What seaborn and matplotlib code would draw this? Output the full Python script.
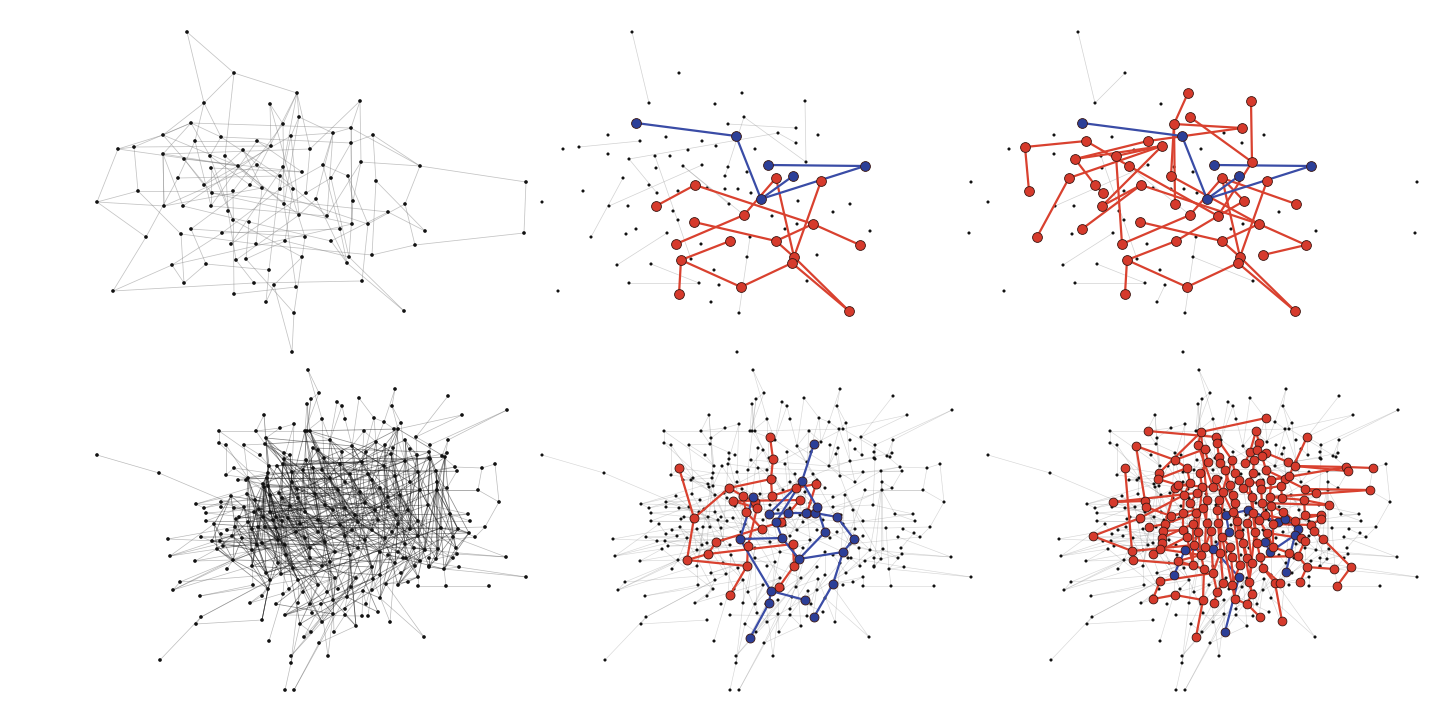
import numpy as np
import matplotlib
matplotlib.use("Agg")
import matplotlib.pyplot as plt
import seaborn as sns
from matplotlib.collections import LineCollection

# ---------------- upper network: node positions (pixels)
TOP_NUM = [n for n in range(1, 101) if n != 54]  # node numbers as counted (54 was a dot of the next panel)
TOP_X = [187, 234, 297, 204, 270, 360, 299, 191, 283, 351,
         163, 221, 291, 333, 373, 118, 134, 195, 257, 271,
         351, 243, 310, 163, 210, 225, 184, 361, 238, 257,
         283, 323, 420, 211, 302, 178, 280, 331, 348, 376,
         526, 204, 250, 262, 280, 293, 138, 233, 306, 212,
         316, 353, 97, 284, 405, 164, 183, 211, 228,
         388, 327, 299, 233, 249, 352, 368, 340, 191, 425,
         181, 222, 524, 146, 305, 285, 331, 256, 231, 415,
         349, 372, 302, 236, 246, 347, 206, 172, 269, 362,
         184, 254, 274, 296, 113, 234, 266, 294, 404, 292]
TOP_Y = [32, 73, 93, 103, 104, 101, 117, 123, 124, 128,
         135, 137, 136, 133, 135, 149, 147, 141, 141, 146,
         143, 150, 149, 154, 156, 156, 159, 162, 166, 165,
         167, 165, 166, 168, 172, 178, 176, 178, 176, 181,
         182, 185, 185, 188, 189, 189, 191, 191, 193, 193,
         199, 201, 202, 204, 204, 206, 206, 206, 211,
         212, 216, 215, 220, 222, 224, 224, 229, 229, 231,
         234, 233, 233, 237, 237, 241, 241, 244, 244, 245,
         257, 255, 257, 260, 259, 263, 264, 265, 270, 281,
         283, 283, 285, 287, 291, 294, 302, 313, 311, 352]

TOP_LINKS = """
1-2 1-4 2-3 2-4 2-26 3-9 3-43 3-23 3-31 4-11 4-18 4-12 5-20 5-46 5-9 6-28 6-23 6-10
7-3 7-14 7-55 7-13 8-11 8-17 8-24 8-12 8-10 8-25 9-48 9-55 10-14 10-21 10-33 10-66
11-16 11-27 11-29 12-21 12-37 12-25 13-14 13-42 13-63 13-45 14-32 14-62 15-33 15-21 15-40
16-53 16-29 16-17 17-47 17-20 18-19 18-59 18-36 19-20 19-59 19-35 20-58 21-38 21-66
22-42 22-44 22-30 23-49 23-24 24-29 24-58 24-57 25-64 25-43 26-44 26-60 27-35 27-42 27-50
28-33 28-62 28-52 29-55 29-63 30-57 30-46 31-79 31-75 32-68 32-45 32-39 34-35 34-59 34-64
36-74 36-37 37-62 37-89 38-49 38-81 39-52 39-67 40-82 40-70 41-33 41-73 43-67 43-69
44-78 44-57 45-72 46-76 47-53 47-48 47-71 48-96 49-79 50-66 50-61 51-63 51-86 51-14 52-81
53-57 53-74 55-94 56-33 56-67 56-80 57-24 58-65 59-62 60-84 61-77 61-70 63-84 64-83
65-77 65-85 66-88 67-90 68-72 68-86 69-87 69-75 71-91 71-78 72-88 73-80 74-95 75-98
76-85 76-81 77-86 78-82 80-82 81-99 84-92 85-98 86-99 87-91 87-89 88-91 88-95 89-97
90-92 92-95 93-83 93-100 93-97 94-96 98-100
"""
TOP_MID_GREY = "1-4 9-10 7-28 6-28 7-37 14-21 14-27 17-18 27-50 25-85 29-55 29-63 30-57 36-74 72-88 87-92 91-92 75-98"
TOP_RIGHT_GREY = "1-4 2-4 72-88 87-92 91-92 93-97 75-98 30-57 25-85 29-63 83-90"
TOP_RED = "59-43 43-67 67-80 38-63 63-79 38-81 40-81 65-77 77-67 77-81 81-99 86-99 84-76 84-96 84-94 94-86"
TOP_RED_MORE = ("3-9 9-55 9-10 19-10 7-28 6-28 28-62 17-18 17-47 27-20 27-42 42-50 36-20 36-74 "
                "26-79 29-62 18-29 59-20 26-20 27-19 69-43 38-56 52-62 38-52 82-80 76-62 37-67 9-37")
TOP_BLUE = "8-13 13-51 51-39 51-33 33-32"

# ---------------- lower network: outer nodes (p) and crowded core nodes (i)
BOT_OUT_X = [308, 395, 448, 319, 311, 337, 359, 307, 342, 392,
             507, 462, 264, 374, 322, 345, 384, 401, 294, 280,
             219, 256, 307, 364, 394, 416, 448, 219, 226, 244,
             430, 393, 410, 447, 284, 260, 97, 429, 429, 442,
             495, 482, 455, 457, 234, 159, 226, 238, 246, 478,
             447, 499, 196, 221, 221, 204, 206, 234, 239, 468,
             485, 470, 475, 206, 227, 221, 168, 201, 220, 223,
             506, 457, 453, 459, 170, 195, 227, 526, 489, 446,
             418, 408, 180, 173, 200, 253, 250, 201, 196, 390,
             424, 269, 311, 304, 319, 334, 160, 291, 328, 291,
             285, 294, 362, 368, 345, 312, 298, 310, 321, 345,
             366, 262, 283, 289, 303, 327, 338, 351, 372, 386,
             401, 429, 415, 403]
BOT_OUT_Y = [370, 389, 396, 393, 399, 402, 398, 404, 406, 406,
             410, 415, 415, 418, 419, 419, 422, 423, 424, 428,
             431, 431, 431, 431, 429, 437, 440, 443, 445, 445,
             445, 448, 449, 453, 453, 455, 455, 558, 458, 456,
             464, 468, 467, 471, 468, 473, 475, 480, 480, 490,
             488, 502, 504, 502, 507, 508, 513, 508, 517, 514,
             527, 521, 537, 521, 530, 534, 539, 537, 541, 546,
             557, 554, 558, 567, 556, 561, 569, 577, 586, 586,
             586, 582, 582, 590, 596, 585, 603, 617, 624, 622,
             637, 641, 632, 637, 643, 632, 660, 656, 656, 663,
             690, 690, 616, 616, 615, 613, 603, 604, 604, 609,
             604, 596, 594, 589, 592, 592, 589, 587, 590, 584,
             573, 566, 566, 558]
BOT_IN_X = [266, 265, 305, 310, 313, 330, 352, 376, 398, 417, 391, 429,
            284, 306, 269, 277, 283, 324, 340, 362, 384, 405, 445, 430,
            268, 292, 303, 313, 248, 267, 330, 350, 372, 395, 418, 436, 437,
            263, 264, 268, 270, 279, 282, 297, 315, 338, 360, 380, 400, 420, 437,
            231, 236, 244, 248, 255, 247, 259, 254, 263, 270, 276, 290, 305, 325, 345, 365, 388, 408, 428, 450,
            273, 282, 288, 214, 232, 235, 252, 258, 265, 276, 300, 318, 340, 358, 378, 398, 418, 441, 458,
            212, 242, 217, 252, 257, 262, 278, 285, 305, 325, 345, 365, 385, 405, 425, 438, 469, 453,
            233, 278, 286, 293, 281, 266, 252, 310, 330, 350, 372, 380, 395, 388, 406, 420, 414, 436, 429, 444, 456,
            270, 268, 298, 318, 335, 356, 276, 333, 347, 363, 373, 418, 398, 380,
            322, 300, 333, 356, 378, 285, 262,
            292, 322, 345, 368, 388, 410, 298, 333, 355, 375, 396, 418, 310, 335, 358,
            380, 398, 296, 318, 352, 372, 392, 410, 290, 318, 342, 366, 385, 405, 322]
BOT_IN_Y = [438, 444, 431, 431, 448, 440, 446, 442, 429, 455, 454, 452,
            459, 460, 466, 466, 464, 458, 464, 462, 466, 461, 457, 459,
            473, 472, 470, 468, 478, 478, 478, 474, 480, 476, 472, 471, 482,
            484, 487, 486, 495, 493, 498, 489, 494, 490, 492, 488, 495, 490, 490,
            496, 519, 507, 522, 500, 494, 509, 512, 517, 512, 517, 506, 512, 505, 508, 503, 507, 510, 505, 514,
            520, 521, 518, 524, 536, 527, 529, 527, 527, 528, 524, 520, 525, 522, 520, 524, 521, 528, 529,
            541, 538, 549, 550, 545, 543, 540, 545, 538, 542, 536, 540, 538, 544, 550, 549, 533, 537,
            560, 563, 555, 568, 574, 573, 566, 558, 562, 555, 567, 575, 563, 555, 558, 561, 548, 559, 567, 569, 548,
            580, 589, 580, 585, 578, 578, 604, 600, 597, 591, 579, 577, 585, 598,
            622, 624, 614, 626, 612, 615, 620,
            482, 470, 482, 474, 497, 482, 498, 510, 515, 510, 515, 536, 548, 552, 548,
            552, 552, 532, 532, 530, 530, 532, 529, 455, 450, 452, 452, 445, 440, 566]

BOT_LINKS_OUTER = """
p0-p14 p0-p3 p1-p9 p1-p16 p2-p25 p3-i2 p3-p4 p4-p22 p5-p8 p5-i5 p6-p13 p6-i6 p7-p22 p7-i2 p8-i5 p8-p15
p9-p17 p9-i8 p10-p30 p10-p26 p11-p25 p11-i8 p12-i0 p12-p21 p13-i7 p13-p16 p14-i5 p14-p22 p15-i6 p16-i7
p16-p24 p17-p24 p17-i21 p18-i12 p18-p19 p19-i0 p19-p21 p20-p21 p20-p27 p21-i2 p22-i17 p23-i6 p23-i19
p24-i21 p25-i9 p25-p30 p26-p39 p26-i22 p27-p28 p28-i28 p28-p46 p29-i1 p29-i28 p30-p38 p30-i23 p31-i10
p31-i20 p32-i9 p33-p39 p33-i22 p34-i12 p34-i16 p35-i14 p35-p29 p36-p45 p38-i23 p39-p42 p40-p41 p40-p51
p41-p49 p41-p42 p42-i35 p43-i35 p43-p50 p44-i24 p44-p46 p45-i59 p46-i28 p47-i29 p47-i24 p48-i37 p49-p51
p49-i50 p50-i50 p50-i36 p51-p60 p52-i51 p52-p55 p53-i55 p54-i53 p55-i56 p56-i57 p57-i58 p57-i60 p58-i59
p59-i70 p59-i69 p60-p62 p60-i88 p61-i70 p62-i89 p63-i54 p64-i77 p65-i74 p66-i76 p67-i90 p67-i75 p68-i93
p69-i94 p70-p71 p70-i107 p71-i127 p72-i105 p73-i127 p74-i74 p74-i92 p75-i92 p75-i108 p76-i108 p77-p73
p78-p79 p79-p80 p79-i127 p80-i140 p81-i140 p81-p119 p82-i108 p82-p83 p83-i93 p84-p85 p85-i114 p86-p111
p86-i130 p87-i129 p88-p87 p88-i149 p89-i139 p90-p119 p90-i142 p91-p112 p92-i144 p92-p93 p93-i134
p94-i145 p95-i136 p95-p104 p96-p87 p97-p99 p97-i134 p98-i145 p98-p108 p99-p106 p100-p99 p101-i134
p101-p94 p102-i148 p102-i138 p103-i139 p104-i146 p105-i143 p105-i131 p106-i131 p107-i133 p108-i136
p109-i137 p110-i139 p110-i138 p111-i129 p112-i110 p113-i131 p114-i133 p115-i116 p116-i118 p117-i139
p118-i119 p119-i140 p120-i121 p121-i126 p122-i124 p123-i122 p37-i125 p37-i126
p20-i14 p27-i37 p52-i37 p63-i41 p66-i95 p74-i78 p83-i96 p87-i111 p89-i120 p77-i127 p12-i24 p44-i40
p47-i43 p48-i62 p53-i71 p56-i72 p58-i81 p64-i99 p65-i98 p68-i96 p69-i97 p52-i62 p55-i40 p63-i72
p67-i96 p74-i81 p75-i97 p82-i112 p83-i114 p84-i131 p86-i133 p42-i33 p43-i34 p49-i49 p50-i67 p59-i86
p61-i87 p62-i103 p70-i104 p71-i125 p72-i103 p73-i121 p38-i21 p33-i20 p4-i26 p7-i3 p13-i19 p14-i17
p18-i25 p21-i1 p22-i5 p23-i7 p24-i20 p31-i33 p92-i136 p93-i133 p94-i146 p97-i143 p99-i144 p104-i138
p105-i115 p106-i162 p107-i116 p108-i117 p109-i118 p111-i130 p112-i131 p113-i109 p114-i162 p115-i163
p116-i164 p117-i165 p118-i120 p119-i122 p120-i104 p121-i125 p122-i166 p123-i103
"""
BOT_LINKS_CORE = """
i0-i14 i0-i25 i0-i43 i1-i16 i1-i26 i1-i173 i2-i13 i2-i27 i2-i174 i3-i17 i3-i30 i3-i151 i4-i18 i4-i31
i4-i26 i5-i19 i5-i45 i5-i175 i6-i20 i6-i46 i6-i32 i7-i21 i7-i47 i7-i176 i8-i33 i8-i22 i8-i177 i9-i34
i9-i49 i9-i178 i10-i33 i10-i48 i10-i19 i11-i35 i11-i36 i11-i23
i12-i25 i12-i41 i12-i44 i13-i26 i13-i45 i13-i150 i14-i24 i14-i38 i14-i62 i15-i39 i15-i43 i15-i156
i16-i42 i16-i63 i16-i27 i17-i30 i17-i64 i17-i152 i18-i31 i18-i65 i18-i153 i19-i32 i19-i66 i19-i46
i20-i33 i20-i67 i20-i154 i21-i34 i21-i68 i21-i155 i22-i50 i22-i70 i22-i36 i23-i35 i23-i69 i23-i49
i24-i37 i24-i55 i24-i60 i25-i43 i25-i62 i25-i73 i26-i44 i26-i63 i26-i81 i27-i44 i27-i64 i27-i82
i28-i55 i28-i56 i28-i57 i29-i39 i29-i59 i29-i61 i30-i45 i30-i65 i30-i83 i31-i46 i31-i66 i31-i84
i32-i47 i32-i67 i32-i85 i33-i48 i33-i68 i33-i86 i34-i49 i34-i69 i34-i87 i35-i50 i35-i70 i35-i88
i36-i50 i36-i89 i36-i105
i37-i59 i37-i71 i37-i77 i38-i60 i38-i72 i38-i94 i39-i61 i39-i73 i39-i96 i40-i72 i40-i80 i40-i97
i41-i73 i41-i81 i41-i98 i42-i62 i42-i82 i42-i167 i43-i63 i43-i98 i43-i162 i44-i64 i44-i83 i44-i99
i45-i65 i45-i84 i45-i100 i46-i66 i46-i85 i46-i101 i47-i67 i47-i86 i47-i102 i48-i68 i48-i87 i48-i103
i49-i69 i49-i88 i49-i104 i50-i70 i50-i89 i50-i161
i51-i74 i51-i90 i51-i53 i52-i75 i52-i91 i52-i57 i53-i76 i53-i93 i54-i77 i54-i94 i55-i78 i55-i95
i56-i79 i56-i71 i57-i80 i57-i96 i58-i77 i58-i97 i59-i71 i59-i98 i60-i72 i60-i81 i61-i73 i61-i167
i62-i81 i62-i99 i63-i82 i63-i168 i64-i83 i64-i157 i65-i84 i65-i158 i66-i85 i66-i159 i67-i86 i67-i160
i68-i87 i68-i172 i69-i88 i69-i161 i70-i89 i70-i107
i71-i96 i71-i110 i72-i97 i72-i111 i73-i98 i73-i115 i74-i92 i74-i108 i75-i93 i75-i90 i76-i94 i76-i108
i77-i95 i77-i113 i78-i96 i78-i114 i79-i97 i79-i109 i80-i98 i80-i110 i81-i99 i81-i115 i82-i100 i82-i116
i83-i101 i83-i117 i84-i102 i84-i118 i85-i103 i85-i119 i86-i104 i86-i120 i87-i105 i87-i123 i88-i106
i88-i127 i89-i107 i89-i125
i90-i108 i90-i93 i91-i108 i91-i94 i92-i108 i93-i113 i93-i129 i94-i114 i94-i110 i95-i109 i95-i111
i96-i112 i96-i131 i97-i111 i97-i132 i98-i115 i98-i133 i99-i116 i99-i179 i100-i117 i100-i136
i101-i118 i101-i137 i102-i119 i102-i138 i103-i120 i103-i122 i104-i124 i104-i141 i105-i125 i105-i126
i106-i127 i106-i128 i107-i128 i107-i127
i108-i129 i109-i130 i110-i131 i111-i132 i112-i133 i113-i129 i114-i130 i115-i134 i116-i136 i117-i137
i118-i139 i119-i142 i120-i142 i121-i139 i122-i140 i123-i141 i124-i141 i125-i126 i126-i127 i127-i128
i115-i179 i116-i135 i117-i146 i118-i148
i129-i149 i130-i149 i131-i143 i132-i144 i133-i145 i134-i143 i135-i145 i136-i146 i137-i147 i138-i148
i139-i148 i140-i141 i142-i138
i150-i43 i150-i156 i150-i30 i151-i17 i151-i45 i151-i157 i152-i31 i152-i46 i152-i158 i153-i32 i153-i47
i153-i159 i154-i47 i154-i160 i154-i48 i155-i34 i155-i49 i155-i172 i156-i62 i156-i81 i156-i167
i157-i83 i157-i99 i157-i168 i158-i84 i158-i100 i158-i169 i159-i85 i159-i101 i159-i170 i160-i86
i160-i102 i160-i171 i161-i88 i161-i104 i161-i166 i162-i115 i162-i98 i162-i163 i163-i116 i163-i117
i163-i164 i164-i117 i164-i118 i164-i165 i165-i119 i165-i120 i165-i166 i166-i122 i166-i123 i167-i81
i167-i98 i168-i99 i168-i82 i169-i100 i169-i84 i170-i101 i170-i85 i171-i102 i171-i86 i172-i103
i172-i87 i173-i12 i173-i25 i174-i17 i174-i26 i175-i18 i175-i30 i176-i19 i176-i31 i177-i20 i177-i32
i178-i21 i178-i34 i179-i116
i0-i60 i2-i44 i5-i64 i7-i66 i9-i68 i12-i81 i14-i77 i18-i100 i20-i102 i22-i105 i24-i95 i26-i115
i28-i93 i30-i117 i33-i103 i35-i125 i37-i113 i41-i111 i44-i136 i46-i137 i48-i120 i50-i140 i53-i129
i56-i114 i59-i131 i62-i133 i65-i146 i67-i139 i69-i141 i72-i149 i76-i130 i80-i143 i83-i147 i86-i142
i88-i128 i92-i130 i97-i144 i100-i148 i103-i140 i110-i145 i4-i63 i6-i84 i8-i85 i10-i87 i13-i82
i16-i96 i19-i65 i21-i86 i23-i104 i25-i97 i27-i99 i29-i94 i31-i101 i32-i159 i34-i161 i36-i126
i39-i109 i42-i112 i45-i158 i47-i160 i49-i166 i51-i76 i54-i92 i57-i111 i60-i110 i64-i163 i66-i164
i68-i165 i70-i128 i73-i132 i77-i129
i0-i84 i1-i65 i3-i100 i5-i120 i6-i103 i8-i66 i11-i86 i12-i98 i13-i116 i15-i99 i17-i118 i19-i87
i21-i101 i22-i88 i24-i114 i25-i163 i26-i164 i27-i165 i29-i110 i30-i169 i31-i170 i32-i171 i33-i172
i35-i106 i37-i96 i38-i115 i40-i162 i41-i168 i42-i157 i43-i158 i44-i159 i45-i160 i46-i161 i47-i124
i48-i125 i50-i107 i53-i95 i55-i82 i57-i83 i58-i167 i60-i100 i61-i136 i63-i101 i64-i102 i65-i103
i66-i104 i67-i105 i71-i116 i72-i117 i73-i163 i78-i133 i79-i162 i81-i164 i82-i165 i83-i166 i84-i123
i85-i161 i150-i157 i151-i158 i152-i159 i153-i160 i154-i161 i173-i150 i174-i151 i175-i152 i176-i153
i177-i154 i178-i155 i156-i168 i157-i169 i158-i170 i159-i171 i160-i172 i167-i163 i168-i164 i169-i165
i170-i166 i2-i150 i4-i152 i6-i155 i9-i172 i10-i160 i14-i156 i16-i157 i18-i159 i20-i161 i23-i105
i28-i78 i34-i107 i36-i104 i39-i167 i49-i171 i52-i94 i56-i96 i59-i109 i62-i132 i68-i126 i70-i125
i75-i113 i77-i112 i80-i131 i86-i123 i87-i128 i89-i106 i95-i131 i99-i137 i101-i139 i102-i141
i0-i6 i2-i8 i3-i10 i1-i5 i4-i11 i12-i18 i13-i20 i14-i19 i15-i22 i16-i21 i17-i23
i24-i31 i25-i33 i26-i35 i28-i30 i29-i32 i27-i34 i37-i45 i38-i47 i39-i49 i40-i46 i41-i48 i42-i50 i43-i44
i51-i62 i52-i64 i53-i66 i54-i68 i55-i65 i56-i63 i57-i67 i58-i69 i59-i70 i60-i66
i71-i83 i72-i85 i73-i87 i74-i80 i75-i82 i76-i84 i77-i86 i78-i88 i79-i89
i90-i97 i91-i99 i92-i96 i93-i101 i94-i103 i95-i105 i98-i107 i100-i106
i108-i116 i109-i118 i110-i120 i111-i122 i112-i117 i113-i115 i114-i119 i121-i127
i9-i41 i11-i44 i21-i62 i23-i81 i34-i96 i36-i98 i49-i95 i50-i99 i69-i110 i70-i116 i88-i131 i89-i136
i8-i40 i7-i59 i22-i84 i20-i78 i33-i71 i35-i83 i48-i113 i47-i129 i87-i133 i86-i112 i105-i143 i104-i144
i10-i58 i6-i37 i19-i28 i32-i54 i46-i93 i67-i108 i68-i114 i161-i131 i172-i113 i155-i96 i178-i42 i177-i61
"""

# lower middle panel: highlighted trees
BM_RED_X = [325, 328, 326, 327, 284, 298, 288, 310, 312, 351, 371, 355, 301, 336,
            317, 271, 303, 348, 263, 302, 349, 234, 249, 242, 285, 334, 362]
BM_RED_Y = [437, 459, 479, 496, 488, 496, 501, 502, 508, 488, 484, 500, 512, 522,
            529, 542, 546, 544, 554, 566, 566, 468, 518, 560, 595, 587, 513]
BM_RED_LINKS = ("0-1 1-2 2-3 2-4 4-22 21-22 22-23 23-18 18-15 15-13 18-17 23-19 19-24 16-19 17-20 "
                "20-25 12-14 4-5 5-7 6-8 6-11 9-10 8-16 13-11 10-26 3-9 12-5")
BM_BLUE_X = [369, 357, 308, 324, 331, 343, 361, 370, 372, 392, 380,
             409, 295, 337, 354, 398, 388, 360, 369, 326, 324, 305]
BM_BLUE_Y = [444, 481, 497, 514, 522, 513, 513, 513, 507, 517, 532,
             539, 539, 538, 559, 552, 584, 600, 617, 591, 603, 638]
BM_BLUE_LINKS = ("0-1 1-3 1-4 2-12 12-13 13-14 14-15 5-6 6-7 7-9 9-11 8-10 11-15 15-16 16-18 "
                 "19-17 19-20 20-21 12-19 3-5 4-13 8-1 10-14")

# lower right panel: highlighted trees
BR_RED_X = [257, 245, 234, 284, 268, 267, 284, 287, 222, 254, 255, 249, 280, 258,
            274, 272, 202, 271, 271, 269, 241, 262, 242, 287, 269, 284, 262,
            375, 310, 365, 325, 326, 307, 314, 368, 359, 366,
            375, 328, 341, 354, 363, 371, 317, 296, 329, 334,
            344, 309, 362, 375, 325, 348, 358, 369, 380, 299,
            311, 322, 339, 352, 370, 293, 306, 332, 342, 361,
            379, 299, 316, 328, 344, 371, 380, 292, 305, 312,
            326, 342, 362, 374, 302, 316, 327, 346, 356, 368,
            382, 292, 307, 320, 331, 348, 364, 376, 296, 303,
            314, 339, 352, 366, 382, 310, 329, 341, 356, 369,
            302, 313, 322, 349, 361, 372, 384, 332, 341, 358,
            326, 361, 312, 323, 344, 356, 369, 305,
            416, 397, 404, 394, 398, 390, 455, 457, 482, 414,
            425, 479, 391, 413, 438, 392, 414, 430, 430, 404,
            420, 423, 432, 410, 414, 398, 407, 460, 443, 416,
            409, 446, 389, 391]
BR_RED_Y = [431, 446, 468, 460, 473, 479, 488, 485, 502, 501, 507, 518, 516, 527,
            524, 531, 536, 538, 543, 549, 551, 554, 560, 561, 581, 595, 599,
            418, 432, 431, 437, 443, 445, 449, 443, 452, 450,
            453, 457, 460, 463, 460, 456, 462, 468, 463, 470,
            473, 473, 473, 470, 479, 480, 482, 483, 480, 483,
            487, 487, 485, 488, 489, 495, 493, 492, 495, 497,
            497, 503, 500, 500, 503, 503, 506, 513, 513, 508,
            510, 512, 513, 515, 524, 523, 523, 521, 523, 520,
            524, 530, 532, 531, 537, 534, 532, 533, 537, 545,
            547, 547, 543, 543, 547, 555, 553, 557, 558, 557,
            565, 569, 573, 565, 563, 568, 583, 583, 585, 582,
            592, 594, 600, 603, 599, 604, 617, 637,
            437, 462, 466, 479, 476, 486, 467, 471, 468, 489,
            493, 490, 498, 500, 505, 512, 515, 515, 519, 521,
            525, 531, 539, 538, 541, 553, 556, 567, 569, 567,
            582, 586, 583, 621]
BR_RED_LINKS = """
0-30 1-3 1-10 2-20 3-44 4-5 5-7 4-28 8-9 8-63 9-10 10-12 16-11 16-20 11-62 12-74 13-14 14-6 15-17
17-18 18-19 19-21 20-96 22-107 21-95 23-108 24-26 24-109 25-119 6-7 6-56 7-58
27-28 28-32 29-34 30-31 31-38 32-33 33-43 34-36 35-40 36-37 37-42 38-45 39-47 40-41 41-49 42-50
43-48 44-56 45-46 46-59 47-52 48-57 49-53 50-55 51-58 52-60 53-54 54-61 55-67 56-62 57-63 58-64
59-65 60-66 61-72 62-74 63-68 64-70 65-71 66-79 67-73 68-75 69-76 70-77 71-78 72-80 73-87 74-88
75-81 76-82 77-83 78-84 79-85 80-86 81-89 82-90 83-91 84-92 85-93 86-94 87-101 88-95 89-96 90-97
91-98 92-99 93-100 94-101 95-107 96-102 97-103 98-104 99-105 100-106 102-108 103-109 104-110
105-111 106-112 108-119 109-117 110-115 111-116 112-113 114-117 115-121 116-118 117-120 118-122
119-124 121-122 122-123
28-69 32-58 39-77 46-92 51-84 53-93 57-89 59-99 64-103 66-100 69-97 71-105 75-102 78-110 81-107
83-114 85-111 90-109 91-115 93-116 98-121 99-118 29-35 30-39
125-129 126-127 127-131 131-133 128-129 129-130 130-137 134-136 134-128 134-135 137-138 138-139
140-144 141-142 142-143 143-145 144-148 145-146 146-147 147-152 152-156 148-149 149-151 150-151
151-154 153-154 154-155 158-113 138-141 132-127
37-126 50-128 55-129 61-130 67-137 73-140 80-144 87-145 94-148 101-150 106-151 112-157 113-157
131-55 136-67 139-72 142-87 3-33 5-44 7-62 12-76 14-75 15-88 17-81 19-102 23-102 26-25
"""
BR_BLUE_X = [283, 357, 335, 338, 294, 322, 348, 334, 374, 379, 387, 394, 407, 404, 395]
BR_BLUE_Y = [575, 510, 515, 532, 550, 549, 577, 632, 542, 552, 522, 519, 529, 535, 572]
BR_BLUE_LINKS = "0-4 4-5 5-6 6-7 1-2 2-3 3-5 8-9 8-10 10-11 11-12 12-13 13-14 9-13 1-10"

# ---------------- styling
COL_SHIFT = [0, 445, 891]
RED, RED_LINE, BLUE, BLUE_LINE = "#d63a2c", "#d9412f", "#2c3f98", "#3a4ca6"
OUTLINE = "#3b1712"


def pairs_from(text, lookup):
    out = []
    for tok in text.split():
        a, b = tok.split("-")
        out.append((lookup(a), lookup(b)))
    return out


def add_lines(ax, xs, ys, pairs, color, lw, alpha, z):
    segs = [[(xs[a], ys[a]), (xs[b], ys[b])] for a, b in pairs]
    ax.add_collection(LineCollection(segs, colors=color, linewidths=lw,
                                     alpha=alpha, zorder=z, capstyle="round"))


def add_nodes(ax, xs, ys, size, color, z, edge=None):
    sns.scatterplot(x=list(xs), y=list(ys), s=size, color=color, ax=ax, legend=False,
                    edgecolor=edge if edge else "none", linewidth=0.6 if edge else 0,
                    zorder=z)


def panel(fig, col, row):
    left = (COL_SHIFT[col] + 80) / 1447
    ax = fig.add_axes([left, 0.5 - 0.5 * row, 480 / 1447, 0.5])
    ax.set_xlim(80, 560)
    ax.set_ylim(360 + 360 * row, 360 * row)
    ax.set_axis_off()
    ax.patch.set_alpha(0)
    return ax


def tree(ax, xs, ys, pairs, fill, line, size, z):
    add_lines(ax, xs, ys, pairs, line, 1.6, 1.0, z)
    used = sorted({n for p in pairs for n in p})
    add_nodes(ax, [xs[n] for n in used], [ys[n] for n in used], size, fill, z + 2, OUTLINE)


sns.set_theme(style="white")
plt.rcParams["font.family"] = ["DejaVu Sans"]
fig = plt.figure(figsize=(14.47, 7.2), dpi=100)

# ---- upper row
tx, ty = np.array(TOP_X, float), np.array(TOP_Y, float)
tpos = {n: k for k, n in enumerate(TOP_NUM)}
tlook = lambda s: tpos[int(s)]
top_all = pairs_from(TOP_LINKS, tlook)
top_red = pairs_from(TOP_RED, tlook)
top_red2 = top_red + pairs_from(TOP_RED_MORE, tlook)
top_blue = pairs_from(TOP_BLUE, tlook)

ax = panel(fig, 0, 0)
add_lines(ax, tx, ty, top_all, "#7a7a7a", 0.55, 0.45, 1)
add_nodes(ax, tx, ty, 7, "#111111", 3)

for col, grey, red in [(1, TOP_MID_GREY, top_red), (2, TOP_RIGHT_GREY, top_red2)]:
    ax = panel(fig, col, 0)
    add_lines(ax, tx, ty, pairs_from(grey, tlook), "#9a9a9a", 0.5, 0.45, 1)
    add_nodes(ax, tx, ty, 5, "#111111", 2)
    tree(ax, tx, ty, red, RED, RED_LINE, 50, 4)
    tree(ax, tx, ty, top_blue, BLUE, BLUE_LINE, 50, 5)

# ---- lower row
n_out = len(BOT_OUT_X)
bx = np.array(BOT_OUT_X + BOT_IN_X, float)
by = np.array(BOT_OUT_Y + BOT_IN_Y, float)
blook = lambda s: int(s[1:]) if s[0] == "p" else n_out + int(s[1:])
bot_outer = pairs_from(BOT_LINKS_OUTER, blook)
bot_core = pairs_from(BOT_LINKS_CORE, blook)

ax = panel(fig, 0, 1)
add_lines(ax, bx, by, bot_outer, "#555555", 0.5, 0.4, 1)
add_lines(ax, bx, by, bot_core, "#111111", 0.55, 0.48, 1)
add_nodes(ax, bx, by, 7, "#111111", 3)

light = bot_outer + bot_core[::5]
ax = panel(fig, 1, 1)
add_lines(ax, bx, by, light, "#9a9a9a", 0.45, 0.4, 1)
add_nodes(ax, bx, by, 5, "#111111", 2)
tree(ax, BM_RED_X, BM_RED_Y, pairs_from(BM_RED_LINKS, int), RED, RED_LINE, 42, 4)
tree(ax, BM_BLUE_X, BM_BLUE_Y, pairs_from(BM_BLUE_LINKS, int), BLUE, BLUE_LINE, 42, 5)

ax = panel(fig, 2, 1)
add_lines(ax, bx, by, light, "#9a9a9a", 0.45, 0.4, 1)
add_nodes(ax, bx, by, 5, "#111111", 2)
tree(ax, BR_BLUE_X, BR_BLUE_Y, pairs_from(BR_BLUE_LINKS, int), BLUE, BLUE_LINE, 40, 3)
tree(ax, BR_RED_X, BR_RED_Y, pairs_from(BR_RED_LINKS, int), RED, RED_LINE, 40, 4)

fig.savefig("out.png", dpi=100, facecolor="white")
